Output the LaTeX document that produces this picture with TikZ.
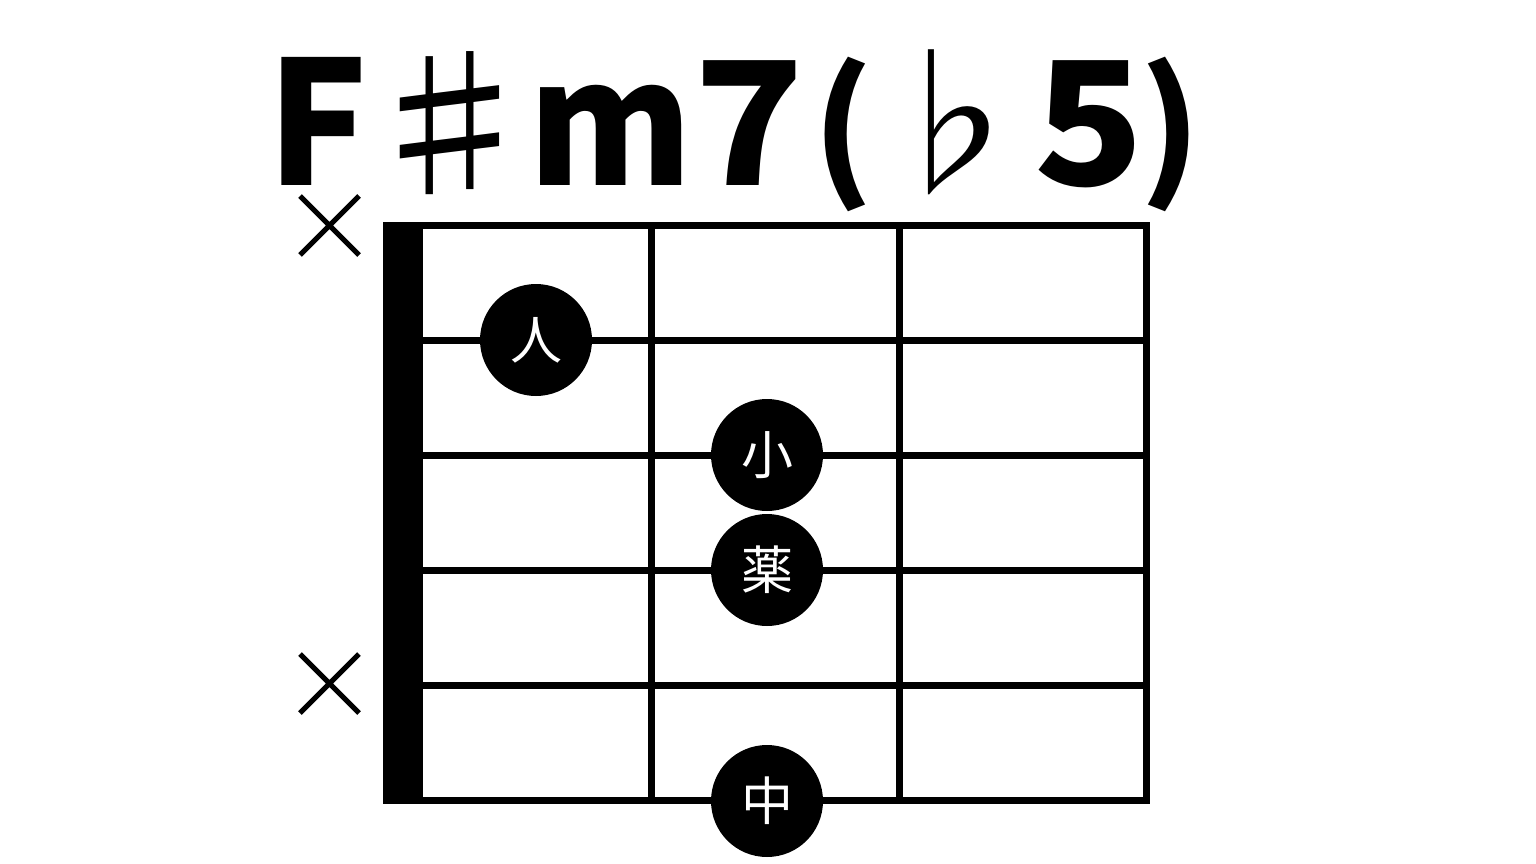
\documentclass[tikz,border=0pt]{standalone}
\usepackage{fontspec}
\newfontfamily\cjk{Noto Sans CJK JP}
\newcommand{\tg}[4]{\makebox[#1][c]{\scalebox{#2}[#3]{#4}}}
\tikzset{
  grid/.style={line width=7pt, line cap=rect},
  ttl/.style={anchor=base, inner sep=0pt, font=\cjk\bfseries\fontsize{172}{172}\selectfont},
  ttlthin/.style={anchor=base, inner sep=0pt, font=\cjk\fontsize{178}{178}\selectfont},
  fdot/.style={circle, fill=black, minimum size=112pt, inner sep=0pt, text=white, font=\cjk\fontsize{52}{52}\selectfont},
  mute/.style={line width=5pt}
}
\begin{document}
\begin{tikzpicture}[x=1pt,y=-1pt]
\useasboundingbox (0,0) rectangle (1536,864);
% strings
\foreach \y in {225,340,455,570,685,800} \draw[grid] (400,\y) -- (1146,\y);
% frets
\foreach \x in {651,899,1146} \draw[grid] (\x,225) -- (\x,800);
% nut
\fill (383,221.5) rectangle (423,803.5);
% mutes
\draw[mute] (300,196) -- (359,255) (300,255) -- (359,196);
\draw[mute] (300,654) -- (359,713) (300,713) -- (359,654);
% dots
\node[fdot] (d1) at (536,340) {人};
\node[fdot] (d2) at (767,455) {小};
\node[fdot] (d3) at (767,570) {薬};
\node[fdot] (d4) at (767,801) {中};
% title
\node[ttl] (t1) at (318,185) {\tg{84pt}{0.97}{1}{F}};
\node[ttlthin] (t2) at (450,185) {\tg{104pt}{1.065}{0.92}{♯}};
\node[ttl] (t3) at (611,185) {\tg{143pt}{0.97}{1}{m}};
\node[ttl] (t4) at (749,185) {\tg{96pt}{1.05}{1}{7}};
\node[ttl] (t5) at (843,181) {\tg{46pt}{0.9}{0.86}{(}};
\node[ttlthin] (t6) at (952,185) {\tg{62pt}{0.87}{0.935}{♭}};
\node[ttl] (t7) at (1089,185) {\tg{98pt}{1.05}{1}{5}};
\node[ttl] (t8) at (1170,181) {\tg{44pt}{0.9}{0.86}{)}};
\end{tikzpicture}
\end{document}
